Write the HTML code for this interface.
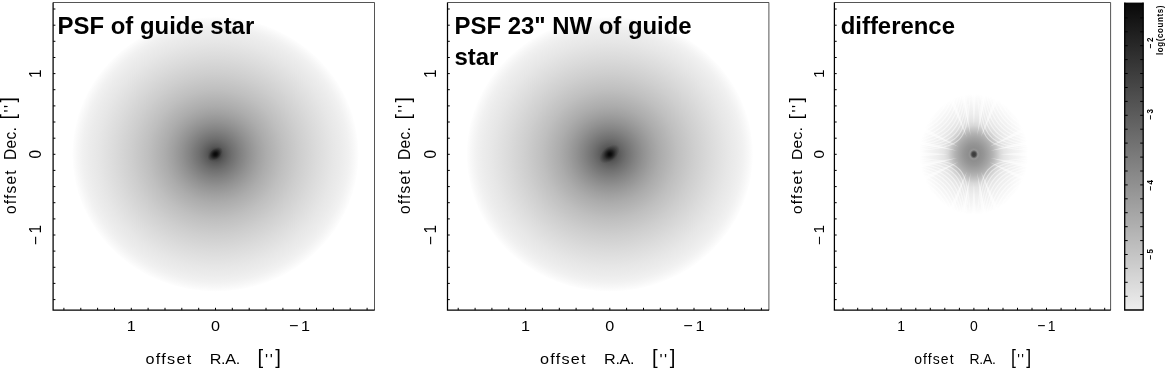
<!DOCTYPE html>
<html lang="en"><head><meta charset="utf-8"><title>PSF comparison</title>
<style>html,body{margin:0;padding:0;background:#fff}body{width:1166px;height:368px;overflow:hidden}svg{display:block}text{font-family:"Liberation Sans", sans-serif;fill:#000}.t{font-weight:bold;font-size:23px}.l{font-size:15.5px}.k{font-size:15.5px}.b{font-size:19.5px}.c{font-size:8px;font-weight:bold}.cb{font-size:8px;font-weight:bold}</style></head><body>
<svg width="1166" height="368" viewBox="0 0 1166 368">
<defs>
<radialGradient id="g1" cx="0.5" cy="0.5" r="0.5">
<stop offset="0.0000" stop-color="rgb(18,18,18)"/>
<stop offset="0.0118" stop-color="rgb(26,26,26)"/>
<stop offset="0.0235" stop-color="rgb(48,48,48)"/>
<stop offset="0.0412" stop-color="rgb(74,74,74)"/>
<stop offset="0.0588" stop-color="rgb(88,88,88)"/>
<stop offset="0.0882" stop-color="rgb(101,101,101)"/>
<stop offset="0.1176" stop-color="rgb(112,112,112)"/>
<stop offset="0.1765" stop-color="rgb(130,130,130)"/>
<stop offset="0.2353" stop-color="rgb(146,146,146)"/>
<stop offset="0.2941" stop-color="rgb(160,160,160)"/>
<stop offset="0.3529" stop-color="rgb(172,172,172)"/>
<stop offset="0.4706" stop-color="rgb(191,191,191)"/>
<stop offset="0.5882" stop-color="rgb(206,206,206)"/>
<stop offset="0.7059" stop-color="rgb(219,219,219)"/>
<stop offset="0.8235" stop-color="rgb(231,231,231)"/>
<stop offset="0.8824" stop-color="rgb(236,236,236)"/>
<stop offset="0.9294" stop-color="rgb(241,241,241)"/>
<stop offset="0.9647" stop-color="rgb(247,247,247)"/>
<stop offset="1.0000" stop-color="rgb(254,254,254)"/>
</radialGradient>
<radialGradient id="g3" cx="0.5" cy="0.5" r="0.5">
<stop offset="0.0000" stop-color="rgb(55,55,55)"/>
<stop offset="0.0367" stop-color="rgb(70,70,70)"/>
<stop offset="0.0734" stop-color="rgb(150,150,150)"/>
<stop offset="0.1101" stop-color="rgb(142,142,142)"/>
<stop offset="0.1835" stop-color="rgb(150,150,150)"/>
<stop offset="0.2752" stop-color="rgb(165,165,165)"/>
<stop offset="0.3486" stop-color="rgb(180,180,180)"/>
<stop offset="0.4220" stop-color="rgb(200,200,200)"/>
<stop offset="0.4771" stop-color="rgb(216,216,216)"/>
<stop offset="0.5505" stop-color="rgb(228,228,228)"/>
<stop offset="0.6606" stop-color="rgb(237,237,237)"/>
<stop offset="0.8440" stop-color="rgb(246,246,246)"/>
<stop offset="1.0000" stop-color="rgb(255,255,255)"/>
</radialGradient>
<linearGradient id="cb" x1="0" y1="0" x2="0" y2="1"><stop offset="0" stop-color="#080808"/><stop offset="1" stop-color="#eeeeee"/></linearGradient>
<radialGradient id="core" cx="0.5" cy="0.5" r="0.5"><stop offset="0" stop-color="#000" stop-opacity="0.6"/><stop offset="0.4" stop-color="#000" stop-opacity="0.38"/><stop offset="1" stop-color="#000" stop-opacity="0"/></radialGradient>
</defs>
<rect width="1166" height="368" fill="#fff"/>
<g>
<ellipse cx="215.5" cy="154.3" rx="143.1" ry="137.2" fill="url(#g1)"/>
<ellipse cx="215.2" cy="154.0" rx="9.0" ry="5.2" transform="rotate(-40 215.2 154.0)" fill="url(#core)"/>
<path d="M53.1 2.5H374.5V310.1" fill="none" stroke="#1c1c1c" stroke-width="0.75"/>
<path d="M53.1 2.6V310.1H374.7" fill="none" stroke="#000" stroke-width="1.25"/>
<path d="M63.9 310.1v-2.3M53.1 9.0h2.3M80.8 310.1v-2.3M53.1 25.2h2.3M97.6 310.1v-2.3M53.1 41.3h2.3M114.5 310.1v-2.3M53.1 57.5h2.3M131.3 310.1v-2.3M53.1 73.6h2.3M148.1 310.1v-2.3M53.1 89.7h2.3M165.0 310.1v-2.3M53.1 105.9h2.3M181.8 310.1v-2.3M53.1 122.0h2.3M198.7 310.1v-2.3M53.1 138.2h2.3M215.5 310.1v-2.3M53.1 154.3h2.3M232.3 310.1v-2.3M53.1 170.4h2.3M249.2 310.1v-2.3M53.1 186.6h2.3M266.0 310.1v-2.3M53.1 202.7h2.3M282.9 310.1v-2.3M53.1 218.9h2.3M299.7 310.1v-2.3M53.1 235.0h2.3M316.5 310.1v-2.3M53.1 251.1h2.3M333.4 310.1v-2.3M53.1 267.3h2.3M350.2 310.1v-2.3M53.1 283.4h2.3M367.1 310.1v-2.3M53.1 299.6h2.3" stroke="#000" stroke-width="1" fill="none"/>
<text class="k" transform="translate(131.3 330.9) scale(1.045 1)" text-anchor="middle" xml:space="preserve">1</text>
<text class="k" transform="translate(41.2 73.6) scale(1.045 1) rotate(-90)" text-anchor="middle" xml:space="preserve">1</text>
<text class="k" transform="translate(215.5 330.9) scale(1.045 1)" text-anchor="middle" xml:space="preserve">0</text>
<text class="k" transform="translate(41.2 154.3) scale(1.045 1) rotate(-90)" text-anchor="middle" xml:space="preserve">0</text>
<text class="k" transform="translate(300.9 330.9) scale(1.045 1)" text-anchor="middle" letter-spacing="2.50" xml:space="preserve">−1</text>
<text class="k" transform="translate(41.2 233.8) scale(1.045 1) rotate(-90)" text-anchor="middle" letter-spacing="2.50" xml:space="preserve">−1</text>
<text class="l" transform="translate(53.1 363.6) scale(1.045 1)"><tspan x="88.5" letter-spacing="1.2">offset</tspan> <tspan x="149.8" letter-spacing="-0.3">R.A.</tspan> <tspan class="b" x="195.7" y="0.7">[</tspan><tspan x="207.3" y="0" text-anchor="middle" letter-spacing="1.5">''</tspan><tspan class="b" x="218.1" y="0.7" text-anchor="end">]</tspan></text>
<text class="l" transform="translate(15.7 0) scale(1.045 1) rotate(-90)"><tspan x="-214" letter-spacing="1.2">offset</tspan> <tspan x="-160" letter-spacing="0.3">Dec.</tspan> <tspan class="b" x="-119.6" y="-0.3">[</tspan><tspan x="-108" y="0" text-anchor="middle" letter-spacing="1.5">''</tspan><tspan class="b" x="-97.2" y="-0.3" text-anchor="end">]</tspan></text>
<text class="t" transform="translate(57.6 33.9) scale(1.040 1)" text-anchor="start" xml:space="preserve">PSF of guide star</text>
</g>
<g>
<ellipse cx="609.8" cy="154.3" rx="143.1" ry="137.2" fill="url(#g1)"/>
<ellipse cx="609.5" cy="154.0" rx="12.0" ry="7.0" transform="rotate(-40 609.5 154.0)" fill="url(#core)"/>
<path d="M447.5 2.5H768.9V310.1" fill="none" stroke="#1c1c1c" stroke-width="0.75"/>
<path d="M447.5 2.6V310.1H769.1" fill="none" stroke="#000" stroke-width="1.25"/>
<path d="M458.2 310.1v-2.3M447.5 9.0h2.3M475.1 310.1v-2.3M447.5 25.2h2.3M491.9 310.1v-2.3M447.5 41.3h2.3M508.8 310.1v-2.3M447.5 57.5h2.3M525.6 310.1v-2.3M447.5 73.6h2.3M542.4 310.1v-2.3M447.5 89.7h2.3M559.3 310.1v-2.3M447.5 105.9h2.3M576.1 310.1v-2.3M447.5 122.0h2.3M593.0 310.1v-2.3M447.5 138.2h2.3M609.8 310.1v-2.3M447.5 154.3h2.3M626.6 310.1v-2.3M447.5 170.4h2.3M643.5 310.1v-2.3M447.5 186.6h2.3M660.3 310.1v-2.3M447.5 202.7h2.3M677.2 310.1v-2.3M447.5 218.9h2.3M694.0 310.1v-2.3M447.5 235.0h2.3M710.8 310.1v-2.3M447.5 251.1h2.3M727.7 310.1v-2.3M447.5 267.3h2.3M744.5 310.1v-2.3M447.5 283.4h2.3M761.4 310.1v-2.3M447.5 299.6h2.3" stroke="#000" stroke-width="1" fill="none"/>
<text class="k" transform="translate(525.6 330.9) scale(1.045 1)" text-anchor="middle" xml:space="preserve">1</text>
<text class="k" transform="translate(435.6 73.6) scale(1.045 1) rotate(-90)" text-anchor="middle" xml:space="preserve">1</text>
<text class="k" transform="translate(609.8 330.9) scale(1.045 1)" text-anchor="middle" xml:space="preserve">0</text>
<text class="k" transform="translate(435.6 154.3) scale(1.045 1) rotate(-90)" text-anchor="middle" xml:space="preserve">0</text>
<text class="k" transform="translate(695.2 330.9) scale(1.045 1)" text-anchor="middle" letter-spacing="2.50" xml:space="preserve">−1</text>
<text class="k" transform="translate(435.6 233.8) scale(1.045 1) rotate(-90)" text-anchor="middle" letter-spacing="2.50" xml:space="preserve">−1</text>
<text class="l" transform="translate(447.5 363.6) scale(1.045 1)"><tspan x="88.5" letter-spacing="1.2">offset</tspan> <tspan x="149.8" letter-spacing="-0.3">R.A.</tspan> <tspan class="b" x="195.7" y="0.7">[</tspan><tspan x="207.3" y="0" text-anchor="middle" letter-spacing="1.5">''</tspan><tspan class="b" x="218.1" y="0.7" text-anchor="end">]</tspan></text>
<text class="l" transform="translate(410.1 0) scale(1.045 1) rotate(-90)"><tspan x="-214" letter-spacing="1.2">offset</tspan> <tspan x="-160" letter-spacing="0.3">Dec.</tspan> <tspan class="b" x="-119.6" y="-0.3">[</tspan><tspan x="-108" y="0" text-anchor="middle" letter-spacing="1.5">''</tspan><tspan class="b" x="-97.2" y="-0.3" text-anchor="end">]</tspan></text>
<text class="t" transform="translate(454.5 33.9) scale(1.040 1)" text-anchor="start" xml:space="preserve">PSF 23" NW of guide</text>
<text class="t" transform="translate(454.5 64.9) scale(1.040 1)" text-anchor="start" xml:space="preserve">star</text>
</g>
<g>
<ellipse cx="973.9" cy="154.3" rx="54.5" ry="60.5" fill="url(#g3)"/>
<clipPath id="cl"><ellipse cx="973.9" cy="154.3" rx="56" ry="62"/></clipPath>
<g clip-path="url(#cl)" fill="none" stroke="#fff" stroke-linecap="round">
<path d="M977.9 209.3L979.9 191.0L981.9 181.8L983.9 176.3L985.9 172.6L987.9 170.0L989.9 168.1L991.9 166.5L993.9 165.3L995.9 164.3L997.9 163.5L999.9 162.8L1001.9 162.2L1003.9 161.6L1005.9 161.2L1007.9 160.8L1009.9 160.4L1011.9 160.1L1013.9 159.8L1015.9 159.5L1017.9 159.3L1019.9 159.1L1021.9 158.9L1023.9 158.7L1025.9 158.5L1027.9 158.4L1029.9 158.2L1031.9 158.1L1033.9 158.0L1035.9 157.8L1037.9 157.7L1039.9 157.6" stroke-width="1.2" stroke-opacity="0.45"/>
<path d="M977.9 99.3L979.9 117.6L981.9 126.8L983.9 132.3L985.9 136.0L987.9 138.6L989.9 140.6L991.9 142.1L993.9 143.3L995.9 144.3L997.9 145.1L999.9 145.8L1001.9 146.4L1003.9 147.0L1005.9 147.4L1007.9 147.8L1009.9 148.2L1011.9 148.5L1013.9 148.8L1015.9 149.1L1017.9 149.3L1019.9 149.5L1021.9 149.7L1023.9 149.9L1025.9 150.1L1027.9 150.2L1029.9 150.4L1031.9 150.5L1033.9 150.6L1035.9 150.8L1037.9 150.9L1039.9 151.0" stroke-width="1.2" stroke-opacity="0.45"/>
<path d="M969.9 209.3L967.9 191.0L965.9 181.8L963.9 176.3L961.9 172.6L959.9 170.0L957.9 168.1L955.9 166.5L953.9 165.3L951.9 164.3L949.9 163.5L947.9 162.8L945.9 162.2L943.9 161.6L941.9 161.2L939.9 160.8L937.9 160.4L935.9 160.1L933.9 159.8L931.9 159.5L929.9 159.3L927.9 159.1L925.9 158.9L923.9 158.7L921.9 158.5L919.9 158.4L917.9 158.2L915.9 158.1L913.9 158.0L911.9 157.8L909.9 157.7L907.9 157.6" stroke-width="1.2" stroke-opacity="0.45"/>
<path d="M969.9 99.3L967.9 117.6L965.9 126.8L963.9 132.3L961.9 136.0L959.9 138.6L957.9 140.6L955.9 142.1L953.9 143.3L951.9 144.3L949.9 145.1L947.9 145.8L945.9 146.4L943.9 147.0L941.9 147.4L939.9 147.8L937.9 148.2L935.9 148.5L933.9 148.8L931.9 149.1L929.9 149.3L927.9 149.5L925.9 149.7L923.9 149.9L921.9 150.1L919.9 150.2L917.9 150.4L915.9 150.5L913.9 150.6L911.9 150.8L909.9 150.9L907.9 151.0" stroke-width="1.2" stroke-opacity="0.45"/>
<path d="M979.9 204.5L981.9 191.9L983.9 184.4L985.9 179.4L987.9 175.8L989.9 173.1L991.9 171.0L993.9 169.4L995.9 168.0L997.9 166.8L999.9 165.9L1001.9 165.1L1003.9 164.3L1005.9 163.7L1007.9 163.2L1009.9 162.7L1011.9 162.2L1013.9 161.8L1015.9 161.5L1017.9 161.1L1019.9 160.8L1021.9 160.6L1023.9 160.3L1025.9 160.1L1027.9 159.9L1029.9 159.7L1031.9 159.5L1033.9 159.3L1035.9 159.2L1037.9 159.0L1039.9 158.9" stroke-width="1.2" stroke-opacity="0.47"/>
<path d="M979.9 104.1L981.9 116.7L983.9 124.2L985.9 129.2L987.9 132.8L989.9 135.5L991.9 137.6L993.9 139.2L995.9 140.6L997.9 141.8L999.9 142.7L1001.9 143.5L1003.9 144.3L1005.9 144.9L1007.9 145.4L1009.9 145.9L1011.9 146.4L1013.9 146.8L1015.9 147.1L1017.9 147.5L1019.9 147.8L1021.9 148.0L1023.9 148.3L1025.9 148.5L1027.9 148.7L1029.9 148.9L1031.9 149.1L1033.9 149.3L1035.9 149.4L1037.9 149.6L1039.9 149.7" stroke-width="1.2" stroke-opacity="0.47"/>
<path d="M967.9 204.5L965.9 191.9L963.9 184.4L961.9 179.4L959.9 175.8L957.9 173.1L955.9 171.0L953.9 169.4L951.9 168.0L949.9 166.8L947.9 165.9L945.9 165.1L943.9 164.3L941.9 163.7L939.9 163.2L937.9 162.7L935.9 162.2L933.9 161.8L931.9 161.5L929.9 161.1L927.9 160.8L925.9 160.6L923.9 160.3L921.9 160.1L919.9 159.9L917.9 159.7L915.9 159.5L913.9 159.3L911.9 159.2L909.9 159.0L907.9 158.9" stroke-width="1.2" stroke-opacity="0.47"/>
<path d="M967.9 104.1L965.9 116.7L963.9 124.2L961.9 129.2L959.9 132.8L957.9 135.5L955.9 137.6L953.9 139.2L951.9 140.6L949.9 141.8L947.9 142.7L945.9 143.5L943.9 144.3L941.9 144.9L939.9 145.4L937.9 145.9L935.9 146.4L933.9 146.8L931.9 147.1L929.9 147.5L927.9 147.8L925.9 148.0L923.9 148.3L921.9 148.5L919.9 148.7L917.9 148.9L915.9 149.1L913.9 149.3L911.9 149.4L909.9 149.6L907.9 149.7" stroke-width="1.2" stroke-opacity="0.47"/>
<path d="M979.9 220.1L981.9 203.7L983.9 193.8L985.9 187.2L987.9 182.5L989.9 179.0L991.9 176.2L993.9 174.1L995.9 172.3L997.9 170.8L999.9 169.5L1001.9 168.4L1003.9 167.5L1005.9 166.6L1007.9 165.9L1009.9 165.3L1011.9 164.7L1013.9 164.2L1015.9 163.7L1017.9 163.3L1019.9 162.9L1021.9 162.5L1023.9 162.2L1025.9 161.9L1027.9 161.6L1029.9 161.4L1031.9 161.1L1033.9 160.9L1035.9 160.7L1037.9 160.5L1039.9 160.3" stroke-width="1.2" stroke-opacity="0.48"/>
<path d="M979.9 88.5L981.9 104.9L983.9 114.8L985.9 121.4L987.9 126.1L989.9 129.6L991.9 132.4L993.9 134.5L995.9 136.3L997.9 137.8L999.9 139.1L1001.9 140.2L1003.9 141.1L1005.9 142.0L1007.9 142.7L1009.9 143.3L1011.9 143.9L1013.9 144.4L1015.9 144.9L1017.9 145.3L1019.9 145.7L1021.9 146.1L1023.9 146.4L1025.9 146.7L1027.9 147.0L1029.9 147.2L1031.9 147.5L1033.9 147.7L1035.9 147.9L1037.9 148.1L1039.9 148.3" stroke-width="1.2" stroke-opacity="0.48"/>
<path d="M967.9 220.1L965.9 203.7L963.9 193.8L961.9 187.2L959.9 182.5L957.9 179.0L955.9 176.2L953.9 174.1L951.9 172.3L949.9 170.8L947.9 169.5L945.9 168.4L943.9 167.5L941.9 166.6L939.9 165.9L937.9 165.3L935.9 164.7L933.9 164.2L931.9 163.7L929.9 163.3L927.9 162.9L925.9 162.5L923.9 162.2L921.9 161.9L919.9 161.6L917.9 161.4L915.9 161.1L913.9 160.9L911.9 160.7L909.9 160.5L907.9 160.3" stroke-width="1.2" stroke-opacity="0.48"/>
<path d="M967.9 88.5L965.9 104.9L963.9 114.8L961.9 121.4L959.9 126.1L957.9 129.6L955.9 132.4L953.9 134.5L951.9 136.3L949.9 137.8L947.9 139.1L945.9 140.2L943.9 141.1L941.9 142.0L939.9 142.7L937.9 143.3L935.9 143.9L933.9 144.4L931.9 144.9L929.9 145.3L927.9 145.7L925.9 146.1L923.9 146.4L921.9 146.7L919.9 147.0L917.9 147.2L915.9 147.5L913.9 147.7L911.9 147.9L909.9 148.1L907.9 148.3" stroke-width="1.2" stroke-opacity="0.48"/>
<path d="M981.9 217.0L983.9 204.5L985.9 196.1L987.9 190.1L989.9 185.7L991.9 182.2L993.9 179.4L995.9 177.1L997.9 175.2L999.9 173.6L1001.9 172.2L1003.9 171.0L1005.9 170.0L1007.9 169.1L1009.9 168.2L1011.9 167.5L1013.9 166.8L1015.9 166.2L1017.9 165.7L1019.9 165.2L1021.9 164.8L1023.9 164.3L1025.9 163.9L1027.9 163.6L1029.9 163.3L1031.9 162.9L1033.9 162.7L1035.9 162.4L1037.9 162.1L1039.9 161.9" stroke-width="1.3" stroke-opacity="0.50"/>
<path d="M981.9 91.6L983.9 104.1L985.9 112.5L987.9 118.5L989.9 122.9L991.9 126.4L993.9 129.2L995.9 131.5L997.9 133.4L999.9 135.0L1001.9 136.4L1003.9 137.6L1005.9 138.6L1007.9 139.5L1009.9 140.4L1011.9 141.1L1013.9 141.8L1015.9 142.4L1017.9 142.9L1019.9 143.4L1021.9 143.8L1023.9 144.3L1025.9 144.7L1027.9 145.0L1029.9 145.3L1031.9 145.7L1033.9 145.9L1035.9 146.2L1037.9 146.5L1039.9 146.7" stroke-width="1.3" stroke-opacity="0.50"/>
<path d="M965.9 217.0L963.9 204.5L961.9 196.1L959.9 190.1L957.9 185.7L955.9 182.2L953.9 179.4L951.9 177.1L949.9 175.2L947.9 173.6L945.9 172.2L943.9 171.0L941.9 170.0L939.9 169.1L937.9 168.2L935.9 167.5L933.9 166.8L931.9 166.2L929.9 165.7L927.9 165.2L925.9 164.8L923.9 164.3L921.9 163.9L919.9 163.6L917.9 163.3L915.9 162.9L913.9 162.7L911.9 162.4L909.9 162.1L907.9 161.9" stroke-width="1.3" stroke-opacity="0.50"/>
<path d="M965.9 91.6L963.9 104.1L961.9 112.5L959.9 118.5L957.9 122.9L955.9 126.4L953.9 129.2L951.9 131.5L949.9 133.4L947.9 135.0L945.9 136.4L943.9 137.6L941.9 138.6L939.9 139.5L937.9 140.4L935.9 141.1L933.9 141.8L931.9 142.4L929.9 142.9L927.9 143.4L925.9 143.8L923.9 144.3L921.9 144.7L919.9 145.0L917.9 145.3L915.9 145.7L913.9 145.9L911.9 146.2L909.9 146.5L907.9 146.7" stroke-width="1.3" stroke-opacity="0.50"/>
<path d="M983.9 216.4L985.9 206.0L987.9 198.7L989.9 193.1L991.9 188.8L993.9 185.3L995.9 182.5L997.9 180.2L999.9 178.2L1001.9 176.5L1003.9 175.0L1005.9 173.7L1007.9 172.6L1009.9 171.5L1011.9 170.6L1013.9 169.8L1015.9 169.1L1017.9 168.4L1019.9 167.8L1021.9 167.2L1023.9 166.7L1025.9 166.2L1027.9 165.8L1029.9 165.4L1031.9 165.0L1033.9 164.6L1035.9 164.3L1037.9 164.0L1039.9 163.7" stroke-width="1.3" stroke-opacity="0.52"/>
<path d="M983.9 92.2L985.9 102.6L987.9 109.9L989.9 115.5L991.9 119.8L993.9 123.3L995.9 126.1L997.9 128.4L999.9 130.4L1001.9 132.1L1003.9 133.6L1005.9 134.9L1007.9 136.0L1009.9 137.1L1011.9 138.0L1013.9 138.8L1015.9 139.5L1017.9 140.2L1019.9 140.8L1021.9 141.4L1023.9 141.9L1025.9 142.4L1027.9 142.8L1029.9 143.2L1031.9 143.6L1033.9 144.0L1035.9 144.3L1037.9 144.6L1039.9 144.9" stroke-width="1.3" stroke-opacity="0.52"/>
<path d="M963.9 216.4L961.9 206.0L959.9 198.7L957.9 193.1L955.9 188.8L953.9 185.3L951.9 182.5L949.9 180.2L947.9 178.2L945.9 176.5L943.9 175.0L941.9 173.7L939.9 172.6L937.9 171.5L935.9 170.6L933.9 169.8L931.9 169.1L929.9 168.4L927.9 167.8L925.9 167.2L923.9 166.7L921.9 166.2L919.9 165.8L917.9 165.4L915.9 165.0L913.9 164.6L911.9 164.3L909.9 164.0L907.9 163.7" stroke-width="1.3" stroke-opacity="0.52"/>
<path d="M963.9 92.2L961.9 102.6L959.9 109.9L957.9 115.5L955.9 119.8L953.9 123.3L951.9 126.1L949.9 128.4L947.9 130.4L945.9 132.1L943.9 133.6L941.9 134.9L939.9 136.0L937.9 137.1L935.9 138.0L933.9 138.8L931.9 139.5L929.9 140.2L927.9 140.8L925.9 141.4L923.9 141.9L921.9 142.4L919.9 142.8L917.9 143.2L915.9 143.6L913.9 144.0L911.9 144.3L909.9 144.6L907.9 144.9" stroke-width="1.3" stroke-opacity="0.52"/>
<path d="M985.9 217.0L987.9 208.1L989.9 201.4L991.9 196.1L993.9 191.9L995.9 188.5L997.9 185.7L999.9 183.3L1001.9 181.2L1003.9 179.4L1005.9 177.8L1007.9 176.4L1009.9 175.2L1011.9 174.1L1013.9 173.1L1015.9 172.2L1017.9 171.4L1019.9 170.7L1021.9 170.0L1023.9 169.4L1025.9 168.8L1027.9 168.2L1029.9 167.7L1031.9 167.3L1033.9 166.8L1035.9 166.4L1037.9 166.1L1039.9 165.7" stroke-width="1.3" stroke-opacity="0.53"/>
<path d="M985.9 91.6L987.9 100.5L989.9 107.2L991.9 112.5L993.9 116.7L995.9 120.1L997.9 122.9L999.9 125.3L1001.9 127.4L1003.9 129.2L1005.9 130.8L1007.9 132.2L1009.9 133.4L1011.9 134.5L1013.9 135.5L1015.9 136.4L1017.9 137.2L1019.9 137.9L1021.9 138.6L1023.9 139.2L1025.9 139.8L1027.9 140.4L1029.9 140.9L1031.9 141.3L1033.9 141.8L1035.9 142.2L1037.9 142.5L1039.9 142.9" stroke-width="1.3" stroke-opacity="0.53"/>
<path d="M961.9 217.0L959.9 208.1L957.9 201.4L955.9 196.1L953.9 191.9L951.9 188.5L949.9 185.7L947.9 183.3L945.9 181.2L943.9 179.4L941.9 177.8L939.9 176.4L937.9 175.2L935.9 174.1L933.9 173.1L931.9 172.2L929.9 171.4L927.9 170.7L925.9 170.0L923.9 169.4L921.9 168.8L919.9 168.2L917.9 167.7L915.9 167.3L913.9 166.8L911.9 166.4L909.9 166.1L907.9 165.7" stroke-width="1.3" stroke-opacity="0.53"/>
<path d="M961.9 91.6L959.9 100.5L957.9 107.2L955.9 112.5L953.9 116.7L951.9 120.1L949.9 122.9L947.9 125.3L945.9 127.4L943.9 129.2L941.9 130.8L939.9 132.2L937.9 133.4L935.9 134.5L933.9 135.5L931.9 136.4L929.9 137.2L927.9 137.9L925.9 138.6L923.9 139.2L921.9 139.8L919.9 140.4L917.9 140.9L915.9 141.3L913.9 141.8L911.9 142.2L909.9 142.5L907.9 142.9" stroke-width="1.3" stroke-opacity="0.53"/>
<path d="M987.9 218.4L989.9 210.4L991.9 204.2L993.9 199.2L995.9 195.1L997.9 191.7L999.9 188.8L1001.9 186.4L1003.9 184.2L1005.9 182.4L1007.9 180.7L1009.9 179.2L1011.9 177.9L1013.9 176.7L1015.9 175.7L1017.9 174.7L1019.9 173.8L1021.9 173.0L1023.9 172.3L1025.9 171.6L1027.9 170.9L1029.9 170.3L1031.9 169.8L1033.9 169.3L1035.9 168.8L1037.9 168.3L1039.9 167.9" stroke-width="1.3" stroke-opacity="0.55"/>
<path d="M987.9 90.2L989.9 98.2L991.9 104.4L993.9 109.4L995.9 113.5L997.9 116.9L999.9 119.8L1001.9 122.2L1003.9 124.4L1005.9 126.2L1007.9 127.9L1009.9 129.4L1011.9 130.7L1013.9 131.9L1015.9 132.9L1017.9 133.9L1019.9 134.8L1021.9 135.6L1023.9 136.3L1025.9 137.0L1027.9 137.7L1029.9 138.3L1031.9 138.8L1033.9 139.3L1035.9 139.8L1037.9 140.3L1039.9 140.7" stroke-width="1.3" stroke-opacity="0.55"/>
<path d="M959.9 218.4L957.9 210.4L955.9 204.2L953.9 199.2L951.9 195.1L949.9 191.7L947.9 188.8L945.9 186.4L943.9 184.2L941.9 182.4L939.9 180.7L937.9 179.2L935.9 177.9L933.9 176.7L931.9 175.7L929.9 174.7L927.9 173.8L925.9 173.0L923.9 172.3L921.9 171.6L919.9 170.9L917.9 170.3L915.9 169.8L913.9 169.3L911.9 168.8L909.9 168.3L907.9 167.9" stroke-width="1.3" stroke-opacity="0.55"/>
<path d="M959.9 90.2L957.9 98.2L955.9 104.4L953.9 109.4L951.9 113.5L949.9 116.9L947.9 119.8L945.9 122.2L943.9 124.4L941.9 126.2L939.9 127.9L937.9 129.4L935.9 130.7L933.9 131.9L931.9 132.9L929.9 133.9L927.9 134.8L925.9 135.6L923.9 136.3L921.9 137.0L919.9 137.7L917.9 138.3L915.9 138.8L913.9 139.3L911.9 139.8L909.9 140.3L907.9 140.7" stroke-width="1.3" stroke-opacity="0.55"/>
<path d="M989.9 220.2L991.9 212.9L993.9 207.1L995.9 202.3L997.9 198.3L999.9 194.9L1001.9 192.0L1003.9 189.5L1005.9 187.3L1007.9 185.3L1009.9 183.6L1011.9 182.1L1013.9 180.7L1015.9 179.4L1017.9 178.3L1019.9 177.2L1021.9 176.3L1023.9 175.4L1025.9 174.6L1027.9 173.8L1029.9 173.1L1031.9 172.5L1033.9 171.9L1035.9 171.3L1037.9 170.8L1039.9 170.3" stroke-width="1.4" stroke-opacity="0.57"/>
<path d="M989.9 88.4L991.9 95.7L993.9 101.5L995.9 106.3L997.9 110.3L999.9 113.7L1001.9 116.6L1003.9 119.1L1005.9 121.3L1007.9 123.3L1009.9 125.0L1011.9 126.5L1013.9 127.9L1015.9 129.2L1017.9 130.3L1019.9 131.4L1021.9 132.3L1023.9 133.2L1025.9 134.0L1027.9 134.8L1029.9 135.5L1031.9 136.1L1033.9 136.7L1035.9 137.3L1037.9 137.8L1039.9 138.3" stroke-width="1.4" stroke-opacity="0.57"/>
<path d="M957.9 220.2L955.9 212.9L953.9 207.1L951.9 202.3L949.9 198.3L947.9 194.9L945.9 192.0L943.9 189.5L941.9 187.3L939.9 185.3L937.9 183.6L935.9 182.1L933.9 180.7L931.9 179.4L929.9 178.3L927.9 177.2L925.9 176.3L923.9 175.4L921.9 174.6L919.9 173.8L917.9 173.1L915.9 172.5L913.9 171.9L911.9 171.3L909.9 170.8L907.9 170.3" stroke-width="1.4" stroke-opacity="0.57"/>
<path d="M957.9 88.4L955.9 95.7L953.9 101.5L951.9 106.3L949.9 110.3L947.9 113.7L945.9 116.6L943.9 119.1L941.9 121.3L939.9 123.3L937.9 125.0L935.9 126.5L933.9 127.9L931.9 129.2L929.9 130.3L927.9 131.4L925.9 132.3L923.9 133.2L921.9 134.0L919.9 134.8L917.9 135.5L915.9 136.1L913.9 136.7L911.9 137.3L909.9 137.8L907.9 138.3" stroke-width="1.4" stroke-opacity="0.57"/>
<path d="M991.9 222.4L993.9 215.6L995.9 210.0L997.9 205.4L999.9 201.4L1001.9 198.1L1003.9 195.1L1005.9 192.6L1007.9 190.3L1009.9 188.3L1011.9 186.5L1013.9 184.9L1015.9 183.5L1017.9 182.1L1019.9 180.9L1021.9 179.8L1023.9 178.8L1025.9 177.9L1027.9 177.0L1029.9 176.2L1031.9 175.4L1033.9 174.7L1035.9 174.1L1037.9 173.4L1039.9 172.9" stroke-width="1.4" stroke-opacity="0.59"/>
<path d="M991.9 86.2L993.9 93.0L995.9 98.6L997.9 103.2L999.9 107.2L1001.9 110.5L1003.9 113.5L1005.9 116.0L1007.9 118.3L1009.9 120.3L1011.9 122.1L1013.9 123.7L1015.9 125.1L1017.9 126.5L1019.9 127.7L1021.9 128.8L1023.9 129.8L1025.9 130.7L1027.9 131.6L1029.9 132.4L1031.9 133.2L1033.9 133.9L1035.9 134.5L1037.9 135.2L1039.9 135.7" stroke-width="1.4" stroke-opacity="0.59"/>
<path d="M955.9 222.4L953.9 215.6L951.9 210.0L949.9 205.4L947.9 201.4L945.9 198.1L943.9 195.1L941.9 192.6L939.9 190.3L937.9 188.3L935.9 186.5L933.9 184.9L931.9 183.5L929.9 182.1L927.9 180.9L925.9 179.8L923.9 178.8L921.9 177.9L919.9 177.0L917.9 176.2L915.9 175.4L913.9 174.7L911.9 174.1L909.9 173.4L907.9 172.9" stroke-width="1.4" stroke-opacity="0.59"/>
<path d="M955.9 86.2L953.9 93.0L951.9 98.6L949.9 103.2L947.9 107.2L945.9 110.5L943.9 113.5L941.9 116.0L939.9 118.3L937.9 120.3L935.9 122.1L933.9 123.7L931.9 125.1L929.9 126.5L927.9 127.7L925.9 128.8L923.9 129.8L921.9 130.7L919.9 131.6L917.9 132.4L915.9 133.2L913.9 133.9L911.9 134.5L909.9 135.2L907.9 135.7" stroke-width="1.4" stroke-opacity="0.59"/>
<path d="M993.9 224.7L995.9 218.3L997.9 213.0L999.9 208.5L1001.9 204.6L1003.9 201.2L1005.9 198.3L1007.9 195.7L1009.9 193.4L1011.9 191.4L1013.9 189.5L1015.9 187.8L1017.9 186.3L1019.9 184.9L1021.9 183.6L1023.9 182.5L1025.9 181.4L1027.9 180.4L1029.9 179.4L1031.9 178.6L1033.9 177.8L1035.9 177.0L1037.9 176.3L1039.9 175.6" stroke-width="1.4" stroke-opacity="0.60"/>
<path d="M993.9 83.9L995.9 90.3L997.9 95.6L999.9 100.1L1001.9 104.0L1003.9 107.4L1005.9 110.3L1007.9 112.9L1009.9 115.2L1011.9 117.2L1013.9 119.1L1015.9 120.8L1017.9 122.3L1019.9 123.7L1021.9 125.0L1023.9 126.1L1025.9 127.2L1027.9 128.2L1029.9 129.2L1031.9 130.0L1033.9 130.8L1035.9 131.6L1037.9 132.3L1039.9 133.0" stroke-width="1.4" stroke-opacity="0.60"/>
<path d="M953.9 224.7L951.9 218.3L949.9 213.0L947.9 208.5L945.9 204.6L943.9 201.2L941.9 198.3L939.9 195.7L937.9 193.4L935.9 191.4L933.9 189.5L931.9 187.8L929.9 186.3L927.9 184.9L925.9 183.6L923.9 182.5L921.9 181.4L919.9 180.4L917.9 179.4L915.9 178.6L913.9 177.8L911.9 177.0L909.9 176.3L907.9 175.6" stroke-width="1.4" stroke-opacity="0.60"/>
<path d="M953.9 83.9L951.9 90.3L949.9 95.6L947.9 100.1L945.9 104.0L943.9 107.4L941.9 110.3L939.9 112.9L937.9 115.2L935.9 117.2L933.9 119.1L931.9 120.8L929.9 122.3L927.9 123.7L925.9 125.0L923.9 126.1L921.9 127.2L919.9 128.2L917.9 129.2L915.9 130.0L913.9 130.8L911.9 131.6L909.9 132.3L907.9 133.0" stroke-width="1.4" stroke-opacity="0.60"/>
<path d="M997.9 221.1L999.9 216.0L1001.9 211.6L1003.9 207.8L1005.9 204.4L1007.9 201.5L1009.9 198.8L1011.9 196.5L1013.9 194.4L1015.9 192.5L1017.9 190.8L1019.9 189.2L1021.9 187.7L1023.9 186.4L1025.9 185.1L1027.9 184.0L1029.9 182.9L1031.9 182.0L1033.9 181.0L1035.9 180.2L1037.9 179.4L1039.9 178.6" stroke-width="1.4" stroke-opacity="0.62"/>
<path d="M997.9 87.5L999.9 92.6L1001.9 97.0L1003.9 100.8L1005.9 104.2L1007.9 107.1L1009.9 109.8L1011.9 112.1L1013.9 114.2L1015.9 116.1L1017.9 117.9L1019.9 119.4L1021.9 120.9L1023.9 122.2L1025.9 123.5L1027.9 124.6L1029.9 125.7L1031.9 126.6L1033.9 127.6L1035.9 128.4L1037.9 129.2L1039.9 130.0" stroke-width="1.4" stroke-opacity="0.62"/>
<path d="M949.9 221.1L947.9 216.0L945.9 211.6L943.9 207.8L941.9 204.4L939.9 201.5L937.9 198.8L935.9 196.5L933.9 194.4L931.9 192.5L929.9 190.8L927.9 189.2L925.9 187.7L923.9 186.4L921.9 185.1L919.9 184.0L917.9 182.9L915.9 182.0L913.9 181.0L911.9 180.2L909.9 179.4L907.9 178.6" stroke-width="1.4" stroke-opacity="0.62"/>
<path d="M949.9 87.5L947.9 92.6L945.9 97.0L943.9 100.8L941.9 104.2L939.9 107.1L937.9 109.8L935.9 112.1L933.9 114.2L931.9 116.1L929.9 117.9L927.9 119.4L925.9 120.9L923.9 122.2L921.9 123.5L919.9 124.6L917.9 125.7L915.9 126.6L913.9 127.6L911.9 128.4L909.9 129.2L907.9 130.0" stroke-width="1.4" stroke-opacity="0.62"/>
<path d="M999.9 224.0L1001.9 219.0L1003.9 214.7L1005.9 210.9L1007.9 207.6L1009.9 204.6L1011.9 202.0L1013.9 199.6L1015.9 197.4L1017.9 195.5L1019.9 193.7L1021.9 192.1L1023.9 190.5L1025.9 189.1L1027.9 187.9L1029.9 186.7L1031.9 185.5L1033.9 184.5L1035.9 183.5L1037.9 182.6L1039.9 181.8" stroke-width="1.5" stroke-opacity="0.64"/>
<path d="M999.9 84.6L1001.9 89.6L1003.9 93.9L1005.9 97.7L1007.9 101.0L1009.9 104.0L1011.9 106.6L1013.9 109.0L1015.9 111.2L1017.9 113.1L1019.9 114.9L1021.9 116.5L1023.9 118.1L1025.9 119.5L1027.9 120.7L1029.9 121.9L1031.9 123.1L1033.9 124.1L1035.9 125.1L1037.9 126.0L1039.9 126.8" stroke-width="1.5" stroke-opacity="0.64"/>
<path d="M947.9 224.0L945.9 219.0L943.9 214.7L941.9 210.9L939.9 207.6L937.9 204.6L935.9 202.0L933.9 199.6L931.9 197.4L929.9 195.5L927.9 193.7L925.9 192.1L923.9 190.5L921.9 189.1L919.9 187.9L917.9 186.7L915.9 185.5L913.9 184.5L911.9 183.5L909.9 182.6L907.9 181.8" stroke-width="1.5" stroke-opacity="0.64"/>
<path d="M947.9 84.6L945.9 89.6L943.9 93.9L941.9 97.7L939.9 101.0L937.9 104.0L935.9 106.6L933.9 109.0L931.9 111.2L929.9 113.1L927.9 114.9L925.9 116.5L923.9 118.1L921.9 119.5L919.9 120.7L917.9 121.9L915.9 123.1L913.9 124.1L911.9 125.1L909.9 126.0L907.9 126.8" stroke-width="1.5" stroke-opacity="0.64"/>
<path d="M989.4 146.7L1029.5 124.2L1031.5 129.0Z" fill="#fff" fill-opacity="0.5" stroke="none"/>
<path d="M990.6 150.7L1034.3 139.0L1035.1 143.6Z" fill="#fff" fill-opacity="0.5" stroke="none"/>
<path d="M999.9 154.3L1035.8 151.4L1035.8 157.2Z" fill="#fff" fill-opacity="0.5" stroke="none"/>
<path d="M990.6 157.9L1035.1 165.0L1034.3 169.6Z" fill="#fff" fill-opacity="0.5" stroke="none"/>
<path d="M989.4 161.9L1031.5 179.6L1029.5 184.4Z" fill="#fff" fill-opacity="0.5" stroke="none"/>
<path d="M980.8 171.4L1001.3 215.5L996.9 217.6Z" fill="#fff" fill-opacity="0.5" stroke="none"/>
<path d="M977.1 172.7L987.8 220.8L983.6 221.7Z" fill="#fff" fill-opacity="0.5" stroke="none"/>
<path d="M973.9 182.9L976.5 222.4L971.3 222.4Z" fill="#fff" fill-opacity="0.5" stroke="none"/>
<path d="M970.7 172.7L964.2 221.7L960.0 220.8Z" fill="#fff" fill-opacity="0.5" stroke="none"/>
<path d="M967.0 171.4L950.9 217.6L946.5 215.5Z" fill="#fff" fill-opacity="0.5" stroke="none"/>
<path d="M958.4 161.9L918.3 184.4L916.3 179.6Z" fill="#fff" fill-opacity="0.5" stroke="none"/>
<path d="M957.2 157.9L913.5 169.6L912.7 165.0Z" fill="#fff" fill-opacity="0.5" stroke="none"/>
<path d="M947.9 154.3L912.0 157.2L912.0 151.4Z" fill="#fff" fill-opacity="0.5" stroke="none"/>
<path d="M957.2 150.7L912.7 143.6L913.5 139.0Z" fill="#fff" fill-opacity="0.5" stroke="none"/>
<path d="M958.4 146.7L916.3 129.0L918.3 124.2Z" fill="#fff" fill-opacity="0.5" stroke="none"/>
<path d="M967.0 137.2L946.5 93.1L950.9 91.0Z" fill="#fff" fill-opacity="0.5" stroke="none"/>
<path d="M970.7 135.9L960.0 87.8L964.2 86.9Z" fill="#fff" fill-opacity="0.5" stroke="none"/>
<path d="M973.9 125.7L971.3 86.2L976.5 86.2Z" fill="#fff" fill-opacity="0.5" stroke="none"/>
<path d="M977.1 135.9L983.6 86.9L987.8 87.8Z" fill="#fff" fill-opacity="0.5" stroke="none"/>
<path d="M980.8 137.2L996.9 91.0L1001.3 93.1Z" fill="#fff" fill-opacity="0.5" stroke="none"/>
</g>
<path d="M834.4 2.5H1110.6V310.1" fill="none" stroke="#1c1c1c" stroke-width="0.75"/>
<path d="M834.4 2.6V310.1H1110.8" fill="none" stroke="#000" stroke-width="1.25"/>
<path d="M843.1 310.1v-2.3M834.4 9.0h2.3M857.7 310.1v-2.3M834.4 25.2h2.3M872.2 310.1v-2.3M834.4 41.3h2.3M886.7 310.1v-2.3M834.4 57.5h2.3M901.2 310.1v-2.3M834.4 73.6h2.3M915.8 310.1v-2.3M834.4 89.7h2.3M930.3 310.1v-2.3M834.4 105.9h2.3M944.8 310.1v-2.3M834.4 122.0h2.3M959.4 310.1v-2.3M834.4 138.2h2.3M973.9 310.1v-2.3M834.4 154.3h2.3M988.4 310.1v-2.3M834.4 170.4h2.3M1003.0 310.1v-2.3M834.4 186.6h2.3M1017.5 310.1v-2.3M834.4 202.7h2.3M1032.0 310.1v-2.3M834.4 218.9h2.3M1046.5 310.1v-2.3M834.4 235.0h2.3M1061.1 310.1v-2.3M834.4 251.1h2.3M1075.6 310.1v-2.3M834.4 267.3h2.3M1090.1 310.1v-2.3M834.4 283.4h2.3M1104.7 310.1v-2.3M834.4 299.6h2.3" stroke="#000" stroke-width="1" fill="none"/>
<text class="k" transform="translate(901.2 330.9) scale(0.902 1)" text-anchor="middle" xml:space="preserve">1</text>
<text class="k" transform="translate(824.1 73.6) scale(0.902 1) rotate(-90)" text-anchor="middle" xml:space="preserve">1</text>
<text class="k" transform="translate(973.9 330.9) scale(0.902 1)" text-anchor="middle" xml:space="preserve">0</text>
<text class="k" transform="translate(824.1 154.3) scale(0.902 1) rotate(-90)" text-anchor="middle" xml:space="preserve">0</text>
<text class="k" transform="translate(1047.6 330.9) scale(0.902 1)" text-anchor="middle" letter-spacing="2.50" xml:space="preserve">−1</text>
<text class="k" transform="translate(824.1 233.8) scale(0.902 1) rotate(-90)" text-anchor="middle" letter-spacing="2.50" xml:space="preserve">−1</text>
<text class="l" transform="translate(834.4 363.6) scale(0.902 1)"><tspan x="88.5" letter-spacing="1.2">offset</tspan> <tspan x="149.8" letter-spacing="-0.3">R.A.</tspan> <tspan class="b" x="195.7" y="0.7">[</tspan><tspan x="207.3" y="0" text-anchor="middle" letter-spacing="1.5">''</tspan><tspan class="b" x="218.1" y="0.7" text-anchor="end">]</tspan></text>
<text class="l" transform="translate(802.1 0) scale(0.902 1) rotate(-90)"><tspan x="-214" letter-spacing="1.2">offset</tspan> <tspan x="-160" letter-spacing="0.3">Dec.</tspan> <tspan class="b" x="-119.6" y="-0.3">[</tspan><tspan x="-108" y="0" text-anchor="middle" letter-spacing="1.5">''</tspan><tspan class="b" x="-97.2" y="-0.3" text-anchor="end">]</tspan></text>
<text class="t" transform="translate(840.7 33.9) scale(1.040 1)" text-anchor="start" xml:space="preserve">difference</text>
</g>
<g>
<rect x="1124.7" y="2.6" width="18.5" height="307.4" fill="url(#cb)"/>
<path d="M1124.7 2.6V310H1143.2V2.6" fill="none" stroke="#000" stroke-width="1.3"/>
<path d="M1124.7 3.9h3M1143.2 3.9h-3M1124.7 17.9h3M1143.2 17.9h-3M1124.7 31.8h3M1143.2 31.8h-3M1124.7 45.7h3M1143.2 45.7h-3M1124.7 59.6h3M1143.2 59.6h-3M1124.7 73.5h3M1143.2 73.5h-3M1124.7 87.5h3M1143.2 87.5h-3M1124.7 101.4h3M1143.2 101.4h-3M1124.7 115.3h3M1143.2 115.3h-3M1124.7 129.2h3M1143.2 129.2h-3M1124.7 143.1h3M1143.2 143.1h-3M1124.7 157.1h3M1143.2 157.1h-3M1124.7 171.0h3M1143.2 171.0h-3M1124.7 184.9h3M1143.2 184.9h-3M1124.7 198.8h3M1143.2 198.8h-3M1124.7 212.7h3M1143.2 212.7h-3M1124.7 226.7h3M1143.2 226.7h-3M1124.7 240.6h3M1143.2 240.6h-3M1124.7 254.5h3M1143.2 254.5h-3M1124.7 268.4h3M1143.2 268.4h-3M1124.7 282.3h3M1143.2 282.3h-3M1124.7 296.3h3M1143.2 296.3h-3" stroke="#000" stroke-width="1" fill="none"/>
<text class="c" transform="translate(1153.4 42.1) scale(1.045 1) rotate(-90)" text-anchor="middle" letter-spacing="1.50" xml:space="preserve">−2</text>
<text class="c" transform="translate(1153.4 113.5) scale(1.045 1) rotate(-90)" text-anchor="middle" letter-spacing="1.50" xml:space="preserve">−3</text>
<text class="c" transform="translate(1153.4 184.5) scale(1.045 1) rotate(-90)" text-anchor="middle" letter-spacing="1.50" xml:space="preserve">−4</text>
<text class="c" transform="translate(1153.4 253.5) scale(1.045 1) rotate(-90)" text-anchor="middle" letter-spacing="1.50" xml:space="preserve">−5</text>
<text class="cb" transform="translate(1163.2 30.0) scale(1.045 1) rotate(-90)" text-anchor="middle" letter-spacing="0.60" xml:space="preserve">log(counts)</text>
</g>
</svg></body></html>
